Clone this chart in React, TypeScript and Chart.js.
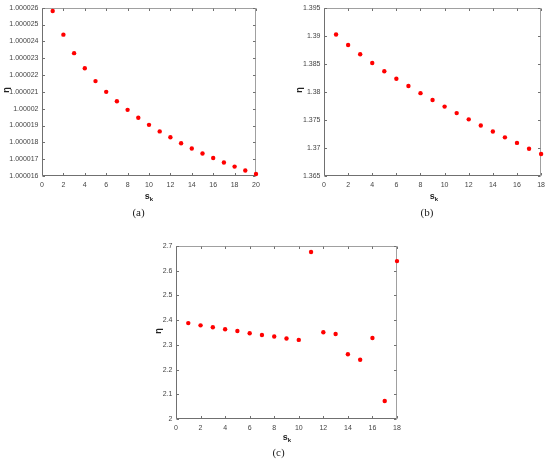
import { useEffect, useRef } from "react";
import Chart from "chart.js/auto";

// values
const skA = [1, 2, 3, 4, 5, 6, 7, 8, 9, 10, 11, 12, 13, 14, 15, 16, 17, 18, 19, 20];
const etaA = [
  1.0000258, 1.0000244, 1.0000233, 1.0000224, 1.00002164, 1.000021, 1.00002044, 1.00001993,
  1.00001946, 1.00001904, 1.00001865, 1.0000183, 1.00001795, 1.00001763, 1.00001734,
  1.00001707, 1.0000168, 1.00001656, 1.00001633, 1.00001612,
];
const skBC = [1, 2, 3, 4, 5, 6, 7, 8, 9, 10, 11, 12, 13, 14, 15, 16, 17, 18];
const etaB = [
  1.39021, 1.38835, 1.38671, 1.38514, 1.38368, 1.38234, 1.38105, 1.37977, 1.37854,
  1.37737, 1.37621, 1.3751, 1.37399, 1.37294, 1.37189, 1.3709, 1.36985, 1.36891,
];
const etaC = [
  2.388, 2.379, 2.371, 2.363, 2.356, 2.347, 2.34, 2.334, 2.326, 2.32, 2.676, 2.351,
  2.344, 2.262, 2.24, 2.328, 2.073, 2.639,
];

const xTicksA = [0, 2, 4, 6, 8, 10, 12, 14, 16, 18, 20];
const xTicksBC = [0, 2, 4, 6, 8, 10, 12, 14, 16, 18];
const yTicksA = [
  1.000016, 1.000017, 1.000018, 1.000019, 1.00002, 1.000021, 1.000022, 1.000023, 1.000024,
  1.000025, 1.000026,
];
const yTicksB = [1.365, 1.37, 1.375, 1.38, 1.385, 1.39, 1.395];
const yTicksC = [2, 2.1, 2.2, 2.3, 2.4, 2.5, 2.6, 2.7];

const boxPlugin = {
  id: "matlabBox",
  beforeDatasetsDraw(chart: any) {
    const { ctx, chartArea: a, scales } = chart;
    const t = 2.5;
    const l = Math.round(a.left) + 0.5;
    const r = Math.round(a.right) - 0.5;
    const top = Math.round(a.top) + 0.5;
    const b = Math.round(a.bottom) - 0.5;
    ctx.save();
    ctx.lineWidth = 1;
    ctx.strokeStyle = "#a0a0a0";
    ctx.beginPath();
    ctx.moveTo(l, top);
    ctx.lineTo(r, top);
    ctx.lineTo(r, b);
    ctx.stroke();
    ctx.strokeStyle = "#707070";
    ctx.beginPath();
    ctx.moveTo(l, top);
    ctx.lineTo(l, b);
    ctx.lineTo(r, b);
    scales.x.ticks.forEach((tk: any) => {
      const px = Math.round(scales.x.getPixelForValue(tk.value)) + 0.5;
      ctx.moveTo(px, b);
      ctx.lineTo(px, b - t);
      ctx.moveTo(px, top);
      ctx.lineTo(px, top + t);
    });
    scales.y.ticks.forEach((tk: any) => {
      const py = Math.round(scales.y.getPixelForValue(tk.value)) + 0.5;
      ctx.moveTo(l, py);
      ctx.lineTo(l + t, py);
      ctx.moveTo(r, py);
      ctx.lineTo(r - t, py);
    });
    ctx.stroke();
    ctx.restore();
  },
};

interface PanelProps {
  xs: number[];
  ys: number[];
  xTicks: number[];
  yTicks: number[];
  digits: number;
  left: number;
  top: number;
  width: number;
  height: number;
  area: { left: number; top: number; right: number; bottom: number };
}

function Panel({ xs, ys, xTicks, yTicks, digits, left, top, width, height, area }: PanelProps) {
  const canvasRef = useRef<HTMLCanvasElement>(null);
  const chartRef = useRef<Chart | null>(null);

  useEffect(() => {
    if (!canvasRef.current) return;
    if (chartRef.current) chartRef.current.destroy();

    const tickFont = { family: "'Liberation Sans', Arial, sans-serif", size: 7 };

    chartRef.current = new Chart(canvasRef.current, {
      type: "scatter",
      data: {
        datasets: [
          {
            data: xs.map((x, i) => ({ x, y: ys[i] })),
            backgroundColor: "#ff0000",
            borderColor: "#ff0000",
            pointRadius: 2.2,
            pointBorderWidth: 0,
            clip: false,
          },
        ],
      },
      options: {
        responsive: true,
        maintainAspectRatio: false,
        animation: false,
        events: [],
        layout: {
          padding: { left: 0, top: area.top, right: width - area.right, bottom: 0 },
        },
        plugins: { legend: { display: false }, tooltip: { enabled: false } },
        scales: {
          x: {
            type: "linear",
            min: xTicks[0],
            max: xTicks[xTicks.length - 1],
            grid: { display: false, drawTicks: false },
            border: { display: false },
            afterBuildTicks: (s: any) => {
              s.ticks = xTicks.map((v) => ({ value: v }));
            },
            afterFit: (s: any) => {
              s.height = height - area.bottom;
            },
            ticks: {
              font: tickFont,
              color: "#444",
              padding: 5,
              maxRotation: 0,
              autoSkip: false,
              callback: (v: any) => String(v),
            },
          },
          y: {
            type: "linear",
            min: yTicks[0],
            max: yTicks[yTicks.length - 1],
            grid: { display: false, drawTicks: false },
            border: { display: false },
            afterBuildTicks: (s: any) => {
              s.ticks = yTicks.map((v) => ({ value: v }));
            },
            afterFit: (s: any) => {
              s.width = area.left;
            },
            ticks: {
              font: tickFont,
              color: "#444",
              padding: 3.5,
              autoSkip: false,
              callback: (v: any) => String(parseFloat(Number(v).toFixed(digits))),
            },
          },
        },
      },
      plugins: [boxPlugin],
    });

    return () => {
      if (chartRef.current) {
        chartRef.current.destroy();
        chartRef.current = null;
      }
    };
  }, [xs, ys, xTicks, yTicks, digits, width, height, area]);

  return (
    <div style={{ position: "absolute", left, top, width, height }}>
      <canvas ref={canvasRef} />
    </div>
  );
}

const labelFont = "'Liberation Sans', Arial, sans-serif";

function EtaLabel({ x, y }: { x: number; y: number }) {
  return (
    <span
      style={{
        position: "absolute",
        left: x,
        top: y,
        transform: "translate(-50%, -50%) rotate(-90deg)",
        fontFamily: labelFont,
        fontSize: 9,
        fontWeight: "bold",
        color: "#222",
        lineHeight: 1,
      }}
    >
      η
    </span>
  );
}

function SkLabel({ x, y }: { x: number; y: number }) {
  return (
    <span
      style={{
        position: "absolute",
        left: x,
        top: y,
        transform: "translate(-50%, -50%)",
        fontFamily: labelFont,
        fontSize: 9,
        fontWeight: "bold",
        color: "#222",
        lineHeight: 1,
        whiteSpace: "nowrap",
      }}
    >
      s<sub style={{ fontSize: 6 }}>k</sub>
    </span>
  );
}

function Caption({ x, y, text }: { x: number; y: number; text: string }) {
  return (
    <span
      style={{
        position: "absolute",
        left: x,
        top: y,
        transform: "translate(-50%, -50%)",
        fontFamily: "'Liberation Serif', 'DejaVu Serif', serif",
        fontSize: 11,
        color: "#222",
        lineHeight: 1,
      }}
    >
      {text}
    </span>
  );
}

const areaA = { left: 42, top: 5, right: 256, bottom: 176 };
const areaB = { left: 49, top: 5, right: 269, bottom: 176 };
const areaC = { left: 46, top: 16, right: 267, bottom: 189 };

export default function App() {
  return (
    <div style={{ position: "absolute", left: 0, top: 0, width: 550, height: 460, background: "#fff" }}>
      <Panel xs={skA} ys={etaA} xTicks={xTicksA} yTicks={yTicksA} digits={6}
        left={0} top={0} width={275} height={200} area={areaA} />
      <Panel xs={skBC} ys={etaB} xTicks={xTicksBC} yTicks={yTicksB} digits={3}
        left={275} top={0} width={275} height={200} area={areaB} />
      <Panel xs={skBC} ys={etaC} xTicks={xTicksBC} yTicks={yTicksC} digits={1}
        left={130} top={230} width={290} height={210} area={areaC} />

      <EtaLabel x={6} y={90} />
      <EtaLabel x={299} y={90} />
      <EtaLabel x={158} y={331} />

      <SkLabel x={149} y={197} />
      <SkLabel x={434} y={197} />
      <SkLabel x={287} y={438} />

      <Caption x={138.5} y={212} text="(a)" />
      <Caption x={427} y={212} text="(b)" />
      <Caption x={278.5} y={452} text="(c)" />
    </div>
  );
}
